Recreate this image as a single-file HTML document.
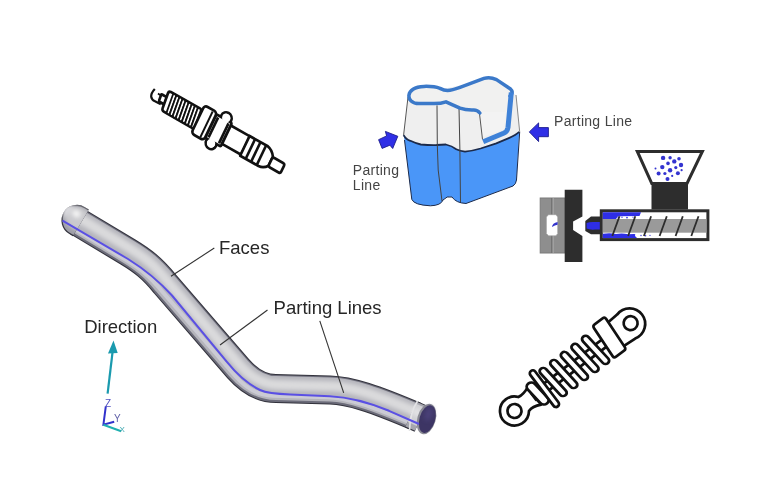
<!DOCTYPE html>
<html><head><meta charset="utf-8"><style>
html,body{margin:0;padding:0;background:#fff;}
body{width:768px;height:480px;overflow:hidden;position:relative;font-family:"Liberation Sans",sans-serif;}
svg{position:absolute;left:0;top:0;will-change:transform;}
text{font-family:"Liberation Sans",sans-serif;}
</style></head><body>
<svg width="768" height="480" viewBox="0 0 768 480">
<defs>
<filter id="b1" filterUnits="userSpaceOnUse" x="0" y="0" width="768" height="480"><feGaussianBlur stdDeviation="2.2"/></filter>
<filter id="b2" filterUnits="userSpaceOnUse" x="0" y="0" width="768" height="480"><feGaussianBlur stdDeviation="0.6"/></filter>
<filter id="b1o" x="-60%" y="-60%" width="220%" height="220%"><feGaussianBlur stdDeviation="2.2"/></filter>
<filter id="b3" filterUnits="userSpaceOnUse" x="0" y="0" width="768" height="480"><feGaussianBlur stdDeviation="0.35"/></filter>
</defs>

<!-- ============ PIPE ============ -->
<g id="pipe">
<path d="M77 221.4 L128 252 C142 260.5 152 268 165 284 L238 368.5 Q255.6 388.5 276 388.5 L330 390 C350 390.5 375 399 416 416.5" fill="none" stroke="#32323c" stroke-width="29"/>
<path d="M77 221.4 L128 252 C142 260.5 152 268 165 284 L238 368.5 Q255.6 388.5 276 388.5 L330 390 C350 390.5 375 399 416 416.5" fill="none" stroke="#6c6c7a" stroke-width="27"/>
<path d="M77 221.4 L128 252 C142 260.5 152 268 165 284 L238 368.5 Q255.6 388.5 276 388.5 L330 390 C350 390.5 375 399 416 416.5" transform="translate(0.2,-0.4)" fill="none" stroke="#b4b4bb" stroke-width="24" filter="url(#b2)"/>
<path d="M77 221.4 L128 252 C142 260.5 152 268 165 284 L238 368.5 Q255.6 388.5 276 388.5 L330 390 C350 390.5 375 399 416 416.5" transform="translate(-3,7.2)" fill="none" stroke="#cbcbd4" stroke-width="4" filter="url(#b2)"/>
<path d="M77 221.4 L128 252 C142 260.5 152 268 165 284 L238 368.5 Q255.6 388.5 276 388.5 L330 390 C350 390.5 375 399 416 416.5" transform="translate(1.7,-3.8)" fill="none" stroke="#dadadc" stroke-width="10" filter="url(#b1)"/>
<!-- left cap -->
<g transform="translate(77 220.5) rotate(31)">
<path d="M4.5 -15.6 L0 -15.6 A15.6 15.6 0 0 0 0 15.6 L4.5 15.6 Z" fill="#34343e"/>
<path d="M4.5 -14.3 L0 -14.3 A14.3 14.3 0 0 0 0 14.3 L4.5 14.3 Z" fill="#9c9ca6"/>
<clipPath id="capclip"><path d="M4.5 -15.8 L0 -15.8 A15.8 15.8 0 0 0 0 15.8 L4.5 15.8 Z"/></clipPath>
<g clip-path="url(#capclip)">
<ellipse cx="0" cy="-2.5" rx="15" ry="11.5" fill="#cacace" filter="url(#b1o)"/>
<ellipse cx="-14" cy="-5" rx="4" ry="8" fill="#dcdce0" filter="url(#b1o)"/>
<ellipse cx="-4" cy="-5.5" rx="4.5" ry="3.5" fill="#f6f6f6" filter="url(#b1o)"/>
</g>
</g>
<!-- right collar and end -->
<path d="M411 414.2 L420.5 418.4" fill="none" stroke="#32323c" stroke-width="29"/>
<path d="M411 414.2 L420.5 418.4" fill="none" stroke="#a6a6ae" stroke-width="27"/>
<path d="M411 414.2 L420.5 418.4" transform="translate(0.5,-1.5)" fill="none" stroke="#cfcfd3" stroke-width="20" filter="url(#b2)"/>
<path d="M411 414.2 L420.5 418.4" transform="translate(1.6,-3.8)" fill="none" stroke="#e2e2e4" stroke-width="8" filter="url(#b1)"/>
<path d="M417.5 401 Q410 412 409.5 431" fill="none" stroke="#e4e4e6" stroke-width="1.6" filter="url(#b2)"/>
<ellipse cx="426.5" cy="419" rx="9.2" ry="15.6" transform="rotate(16 426.5 419)" fill="#8a8a94"/>
<ellipse cx="427.3" cy="419.2" rx="7.8" ry="14.2" transform="rotate(16 427.3 419.2)" fill="#3d3564"/>
<ellipse cx="428.5" cy="414" rx="4" ry="7" transform="rotate(16 428.5 414)" fill="#4a4078" filter="url(#b1)"/>
<!-- parting line -->
<path d="M62.5 220.7 L128 259 C140 266.5 158 280 172 295.5 L226.7 361.7 Q243 382 260 390 Q268 393.8 290 394.4 L330 396.3 C345 397 365 401 389 410.8 L419 424" fill="none" stroke="#5a50e4" stroke-width="2" filter="url(#b3)"/>
</g>

<!-- leaders -->
<g stroke="#333" stroke-width="1.1" fill="none">
<line x1="171" y1="276.3" x2="214.3" y2="248"/>
<line x1="220" y1="345" x2="267.5" y2="310"/>
<line x1="343.7" y1="392.8" x2="319.8" y2="320.8"/>
</g>
<g fill="#262626" font-size="18.5">
<text x="219" y="254.2">Faces</text>
<text x="273.6" y="314.2">Parting Lines</text>
<text x="84.2" y="333">Direction</text>
</g>

<!-- direction arrow + triad -->
<g>
<line x1="107.6" y1="393.7" x2="112.8" y2="350" stroke="#1a9aae" stroke-width="2.2"/>
<path d="M113.5 340.5 L117.7 353 L108 353.5 Z" fill="#1a9aae"/>
<path d="M105.8 406.4 L103.4 424.7 L114.2 421.8" fill="none" stroke="#3232cc" stroke-width="2"/>
<line x1="103.4" y1="424.7" x2="121.2" y2="431.2" stroke="#20b0b0" stroke-width="2"/>
<text x="105" y="407.3" font-size="10" fill="#5050c0">Z</text>
<text x="114" y="422.3" font-size="10" fill="#6060a8">Y</text>
<text x="119.4" y="431.5" font-size="8" fill="#40a8b0">X</text>
</g>


<!-- ============ MOLD ============ -->
<g id="mold">
<!-- grey upper body -->
<path d="M408.5 96 L486 80 L516 95 L519.7 132 L519 150 L470 160 L405 150 L403.6 135.1 Z" fill="#efefef"/>
<!-- blue lower body -->
<path d="M403.6 135.1 Q406 139.5 410.4 140.8 Q416 143.5 420.8 144.5 Q430 145.2 436.5 145 L445.8 144.5 Q452 146 456.3 149.2 Q460 151 465 151.7 Q472 151 480.6 148.5 L496.3 143.3 L508.8 138.1 Q516 135 519.2 131.9 L516.5 180 Q516 184 513 186 L466 203.5 Q456 203 452 197 Q447 195.5 443 200 Q441 205.5 430.4 205.8 Q414 205 411.8 199.4 L404.5 140 Z" fill="#4a96f8"/>
<!-- divider -->
<path d="M403.6 135.1 Q406 139.5 410.4 140.8 Q416 143.5 420.8 144.5 Q430 145.2 436.5 145 L445.8 144.5 Q452 146 456.3 149.2 Q460 151 465 151.7 Q472 151 480.6 148.5 L496.3 143.3 L508.8 138.1 Q516 135 519.2 131.9" fill="none" stroke="#1c2a4a" stroke-width="1.8"/>
<!-- body outline sides -->
<path d="M408 97 L403.6 135.1" fill="none" stroke="#555" stroke-width="1"/>
<path d="M516 95 L519.7 131.9" fill="none" stroke="#888" stroke-width="1"/>
<path d="M437 105.4 L437.3 145 L438.2 170 L442 201" fill="none" stroke="#444" stroke-width="1"/>
<path d="M459 108 L459.9 150 L460.5 203" fill="none" stroke="#444" stroke-width="1"/>
<path d="M404.5 140 L411.8 199.4 Q414 205 430.4 205.8 Q441 205.5 443 200 Q447 195.5 452 197 Q456 203 466 203.5 L513 186 Q516 184 516.5 180 L519.7 131.9" fill="none" stroke="#1c2a4a" stroke-width="1"/>
<!-- top face -->
<path d="M479.8 113 Q477.5 110 473.8 110 Q466 110.3 460 108.2 Q452 104.5 446 101.8 Q441 103.6 434 103.6 L419 103.6 C405 103.6 404.5 86.8 424 86.4 Q434 86.1 440 88.4 Q444 90.6 447.5 90.6 Q452 90.2 460 87.4 L484 78.4 Q490 76.5 496.5 79.6 L510.5 89 Q513.5 91.8 511 94.8 L510 96 L506 130 L481.7 137.1 Z" fill="#f1f1f0"/>
<!-- cut-out step face -->
<path d="M478 112 L481.7 137.1 L503.3 129.8 L506 112 Z" fill="#f3f3f3"/>
<path d="M479.3 112 L482.5 139.5" fill="none" stroke="#555" stroke-width="1"/>
<!-- top rim -->
<path d="M479.8 113 Q477.5 110 473.8 110 Q466 110.3 460 108.2 Q452 104.5 446 101.8 Q441 103.6 434 103.6 L419 103.6 C405 103.6 404.5 86.8 424 86.4 Q434 86.1 440 88.4 Q444 90.6 447.5 90.6 Q452 90.2 460 87.4 L484 78.4 Q490 76.5 496.5 79.6 L510.5 89 Q513.5 91.8 511 94.8 L510 96" fill="none" stroke="#3b79c9" stroke-width="3.5" stroke-linejoin="round" stroke-linecap="round"/>
<path d="M511.3 92.5 L508 127.5 Q507.5 131.5 503.5 133.3 L483.2 141.8" fill="none" stroke="#3f82d8" stroke-width="5" stroke-linejoin="round"/>
<!-- arrows -->
<path d="M397.8 136.3 L392.7 148.5 L389.9 145.2 L382.1 148.4 L378.6 139.7 L386.6 135.9 L385.4 131.4 Z" fill="#2f2fe6" stroke="#1c1c8c" stroke-width="0.9" stroke-linejoin="round"/>
<path d="M529.3 131.9 L538.6 122.9 L538.6 127.6 L548.4 127.6 L548.4 136.7 L538.6 136.7 L538.6 141.6 Z" fill="#2f2fe6" stroke="#1c1c8c" stroke-width="0.9" stroke-linejoin="round"/>
<g fill="#444" font-size="14" letter-spacing="0.3">
<text x="352.8" y="175.4">Parting</text>
<text x="352.8" y="189.6">Line</text>
<text x="554" y="126.3">Parting Line</text>
</g>
</g>

<!-- ============ MACHINE ============ -->
<g id="machine">
<rect x="540.2" y="198" width="24.8" height="55" fill="#8e8e8e" stroke="#7a7a7a" stroke-width="1"/>
<line x1="551.8" y1="198" x2="551.8" y2="253" stroke="#6e6e6e" stroke-width="1.2"/>
<line x1="553.2" y1="198" x2="553.2" y2="253" stroke="#a8a8a8" stroke-width="1"/>
<path d="M548.5 214.7 H556 L557.7 217 V233.5 L556 235.8 H548.5 L546.4 233.5 V217 Z" fill="#ffffff" stroke="#9a9a9a" stroke-width="0.6"/>
<path d="M552 227 Q552.3 223.2 557.6 222 L557.6 224.8 Q555 225.2 552 227 Z" fill="#3434cc"/>
<path d="M564.7 189.7 H582.4 V216.4 L573.1 221.6 V230 L582.4 236.1 V262 H564.7 Z" fill="#2d2d2d"/>
<path d="M585.3 221 L591 216.4 L601 216.4 L601 234.2 L591 234.2 L585.3 231 Z" fill="#2d2d2d"/>
<path d="M586.6 223 Q590 221.5 595 222 L601 222 L601 229.5 L595 229.5 Q590 230 586.6 228.5 Z" fill="#2e2ee6"/>
<rect x="601.3" y="210.8" width="106.6" height="28.8" fill="#fff" stroke="#2d2d2d" stroke-width="3"/>
<path d="M602.8 212.3 H641 L639.5 216 L618 216.3 L616 219 H602.8 Z" fill="#2e2ee6"/><g fill="#3a3ae0"><circle cx="618.5" cy="217.5" r="0.9"/><circle cx="622" cy="217.3" r="0.7"/><circle cx="627" cy="217.6" r="0.9"/><circle cx="633" cy="217.2" r="0.6"/></g>
<path d="M602.8 233.8 Q610 232.6 616 234 Q622 232.8 628 234.2 L634 234 Q636 233.5 635 236 L637 238.1 H602.8 Z" fill="#2e2ee6"/><g fill="#3a3ae0"><circle cx="641" cy="235.5" r="0.7"/><circle cx="645.5" cy="235.8" r="0.8"/><circle cx="650" cy="235.4" r="0.6"/></g>
<rect x="602.8" y="219" width="103.6" height="13.7" fill="#9a9a9a"/>
<g stroke="#2d2d2d" stroke-width="1.8"><line x1="612.3" y1="236" x2="619.5" y2="216.2"/><line x1="628.1" y1="236" x2="635.3" y2="216.2"/><line x1="643.9" y1="236" x2="651.1" y2="216.2"/><line x1="659.6" y1="236" x2="666.8" y2="216.2"/><line x1="675.6" y1="236" x2="682.8" y2="216.2"/><line x1="691.3" y1="236" x2="698.5" y2="216.2"/></g>
<rect x="651.5" y="183" width="36.5" height="26.5" fill="#2d2d2d"/>
<path d="M637.3 151.4 H702.4 L687 183.5 H651.8 Z" fill="#fff" stroke="#2d2d2d" stroke-width="3" stroke-linejoin="miter"/>
<g fill="#3434d0"><circle cx="663.1" cy="157.9" r="2.2"/><circle cx="670.1" cy="157.7" r="1.7"/><circle cx="679" cy="158.75" r="1.8"/><circle cx="674.3" cy="161.4" r="2.2"/><circle cx="668" cy="163.4" r="1.8"/><circle cx="662.3" cy="167.1" r="2.2"/><circle cx="681" cy="165" r="2.2"/><circle cx="675.8" cy="167.6" r="1.6"/><circle cx="670.1" cy="170.2" r="2.2"/><circle cx="658.6" cy="173.5" r="2"/><circle cx="664.9" cy="173.5" r="1.6"/><circle cx="677.9" cy="173.3" r="2"/><circle cx="655.5" cy="168.6" r="1"/><circle cx="681.6" cy="170.2" r="1.1"/><circle cx="672.2" cy="175.9" r="1.1"/><circle cx="667.5" cy="179.1" r="2"/></g>
</g>

<!-- ============ SPARK PLUG ============ -->
<g id="plug" fill="#fff" stroke="#111" stroke-width="2.7" stroke-linejoin="round">
<path d="M154.8 89 Q151 93 151.2 96.8 Q151.8 100.2 155 101.3 L160.8 104.3" fill="none" stroke-width="2.2"/>
<g transform="translate(165.3 100.7) rotate(29.6)">
<g transform="skewX(10)">
<path d="M-4 -2.5 L-9.5 -2.5" fill="none" stroke-width="1.8"/>
<rect x="-6" y="-3.8" width="6.5" height="7.6" rx="1"/>
<rect x="0" y="-10.3" width="38" height="20.6" rx="2.5"/>
<g stroke-width="1.8"><rect x="5.20" y="-10.3" width="3.55" height="20.6" rx="1.75"/><rect x="8.75" y="-10.3" width="3.55" height="20.6" rx="1.75"/><rect x="12.30" y="-10.3" width="3.55" height="20.6" rx="1.75"/><rect x="15.85" y="-10.3" width="3.55" height="20.6" rx="1.75"/><rect x="19.40" y="-10.3" width="3.55" height="20.6" rx="1.75"/><rect x="22.95" y="-10.3" width="3.55" height="20.6" rx="1.75"/><rect x="26.50" y="-10.3" width="3.55" height="20.6" rx="1.75"/><rect x="30.05" y="-10.3" width="3.55" height="20.6" rx="1.75"/><rect x="33.60" y="-10.3" width="3.55" height="20.6" rx="1.75"/></g>
</g>
<g transform="skewX(4)">
<!-- hex lobes -->
<circle cx="62.6" cy="-15" r="5.6"/>
<circle cx="59.8" cy="14.4" r="5.6"/>
<rect x="52" y="-13.5" width="18" height="26" rx="2"/>
<circle cx="62.6" cy="-15" r="4.3" stroke="none"/>
<circle cx="59.8" cy="14.4" r="4.3" stroke="none"/>
<line x1="55" y1="-11.5" x2="55" y2="10.5"/>
<line x1="67" y1="-11.5" x2="67" y2="10.5"/>
<!-- gasket -->
<rect x="37.5" y="-15.5" width="14.5" height="31" rx="3.5"/>
<line x1="47.5" y1="-14" x2="47.5" y2="14.5" stroke-width="2"/>
<!-- insulator -->
<rect x="70" y="-10.8" width="22" height="20.3" rx="1"/>
<!-- ribs -->
<path d="M91.5 -11 L112.5 -11 Q118 -10 121.5 -4.5 L121.5 5.5 Q118 10.5 112.5 10.8 L91.5 10.8 Z"/>
<g stroke-width="2.6"><line x1="97.8" y1="-11" x2="97.8" y2="10.8"/><line x1="104" y1="-11" x2="104" y2="10.8"/><line x1="110.5" y1="-11" x2="110.5" y2="10.8"/></g>
<rect x="121.5" y="-4" width="14" height="10.4" rx="2"/>
</g>
</g>
</g>

<!-- ============ SHOCK ============ -->
<g id="shock" fill="#fff" stroke="#111" stroke-width="2.7" stroke-linejoin="round">
<g transform="translate(514.5 411) rotate(-37.1)">
<!-- bottom eye + neck -->
<path d="M0 -14.5 A14.5 14.5 0 1 0 11.5 8.8 Q17 7 25 11 L25 -11 Q17 -7.5 11.5 -8.8 Q7.5 -14.5 0 -14.5 Z"/>
<circle cx="0" cy="0" r="7"/>
<!-- rod -->
<rect x="24" y="-4.2" width="90" height="8.4"/>
<!-- top eye tab -->
<path d="M117 -13.5 L140 -15 A15.6 15.6 0 1 1 140 15 L117 13.5 Z"/>
<circle cx="145.6" cy="0" r="7"/>
<g transform="skewX(6)">
<rect x="24.5" y="-13.5" width="9" height="27" rx="4.5"/>
</g>
<rect x="34.3" y="-22" width="6" height="44.5" rx="3"/>
<g transform="skewX(5.5)">
<rect x="44.8" y="-17.8" width="7" height="36" rx="3.5"/><rect x="58.1" y="-17.8" width="7" height="36" rx="3.5"/><rect x="71.4" y="-17.8" width="7" height="36" rx="3.5"/><rect x="84.7" y="-17.8" width="7" height="36" rx="3.5"/><rect x="98.0" y="-17.8" width="7" height="36" rx="3.5"/>
</g>
<!-- cap -->
<g transform="skewX(-3.5)">
<rect x="112.3" y="-20.8" width="15.2" height="38.8" rx="2.6"/>
</g>
</g>
</g>

</svg>
</body></html>
